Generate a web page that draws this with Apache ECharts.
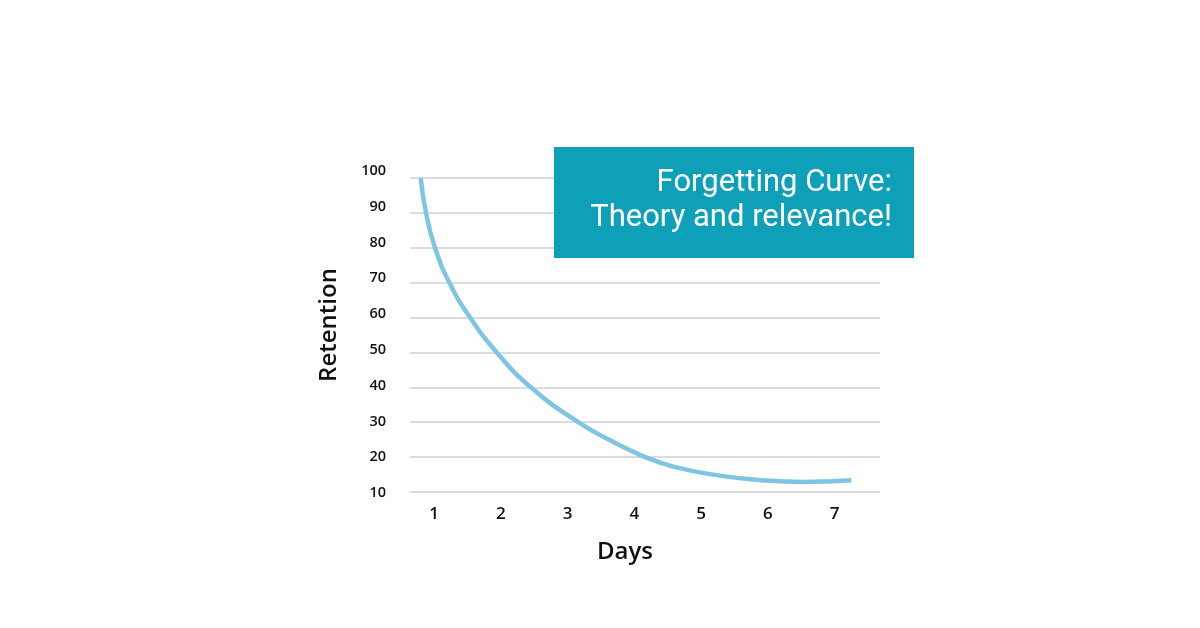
<!DOCTYPE html>
<html>
<head>
<meta charset="utf-8">
<script src="https://cdn.jsdelivr.net/npm/echarts@6/dist/echarts.min.js"></script>
<style>
html,body{margin:0;padding:0;background:#fff;}
#chart{width:1200px;height:628px;}
</style>
</head>
<body>
<div id="chart"></div>
<script>
const dayTicks = [1, 2, 3, 4, 5, 6, 7];
const days = [0.80, 0.88, 1.015, 1.23, 1.54, 1.94, 2.45, 3.16, 3.63, 4.13, 4.60, 5.28, 5.90, 6.55, 6.97, 7.25];
const retention = [100, 90, 80, 70, 60, 50, 40, 30, 24.9, 20.3, 17.2, 14.7, 13.4, 12.9, 13.1, 13.4];
const titleLines = ['Forgetting Curve:', 'Theory and relevance!'];
const xName = 'Days';
const yName = 'Retention';

const labelStyle = { fontFamily: 'Open Sans', fontWeight: 600, color: '#111' };

const chart = echarts.init(document.getElementById('chart'));
chart.setOption({
  backgroundColor: '#ffffff',
  animation: false,
  grid: [
    { left: 410, right: 320, top: 178, bottom: 136 },
    { left: 410, right: 320, top: 171, bottom: 135 }
  ],
  xAxis: [{
    type: 'value',
    gridIndex: 0,
    min: 0.64,
    max: 7.68,
    axisLine: { show: false },
    axisTick: { show: false },
    splitLine: { show: false },
    axisLabel: Object.assign({ customValues: dayTicks, margin: 14, fontSize: 17 }, labelStyle)
  }, {
    type: 'value',
    gridIndex: 1,
    show: false
  }],
  yAxis: [{
    type: 'value',
    gridIndex: 0,
    min: 10,
    max: 100,
    interval: 10,
    axisLine: { show: false },
    axisTick: { show: false },
    axisLabel: { show: false },
    splitLine: { lineStyle: { color: '#dcdcdc', width: 2 } }
  }, {
    type: 'value',
    gridIndex: 1,
    min: 10,
    max: 100,
    interval: 10,
    axisLine: { show: false },
    axisTick: { show: false },
    splitLine: { show: false },
    axisLabel: Object.assign({ margin: 24, fontSize: 14.5 }, labelStyle)
  }],
  series: [{
    type: 'line',
    xAxisIndex: 0,
    yAxisIndex: 0,
    data: days.map((d, i) => [d, retention[i]]),
    smooth: 0.5,
    showSymbol: false,
    lineStyle: { color: '#7fc5e3', width: 4.5 }
  }],
  graphic: [
    {
      type: 'group',
      z: 100,
      children: [
        { type: 'rect', z: 100, shape: { x: 554, y: 147, width: 360, height: 111 }, style: { fill: '#0fa0b9' } },
        { type: 'text', z: 101, style: { x: 892, y: 183, text: titleLines[0], fill: '#fff', font: '400 31px Roboto', textAlign: 'right', textVerticalAlign: 'middle' } },
        { type: 'text', z: 101, style: { x: 892, y: 218, text: titleLines[1], fill: '#fff', font: '400 31px Roboto', textAlign: 'right', textVerticalAlign: 'middle' } }
      ]
    },
    { type: 'text', z: 50, style: { x: 625, y: 552, text: xName, fill: '#111', font: '600 24px "Open Sans"', textAlign: 'center', textVerticalAlign: 'middle' } },
    { type: 'text', z: 50, x: 329, y: 325, rotation: Math.PI / 2, style: { x: 0, y: 0, text: yName, fill: '#111', font: '600 24px "Open Sans"', textAlign: 'center', textVerticalAlign: 'middle' } }
  ]
});
</script>
</body>
</html>
